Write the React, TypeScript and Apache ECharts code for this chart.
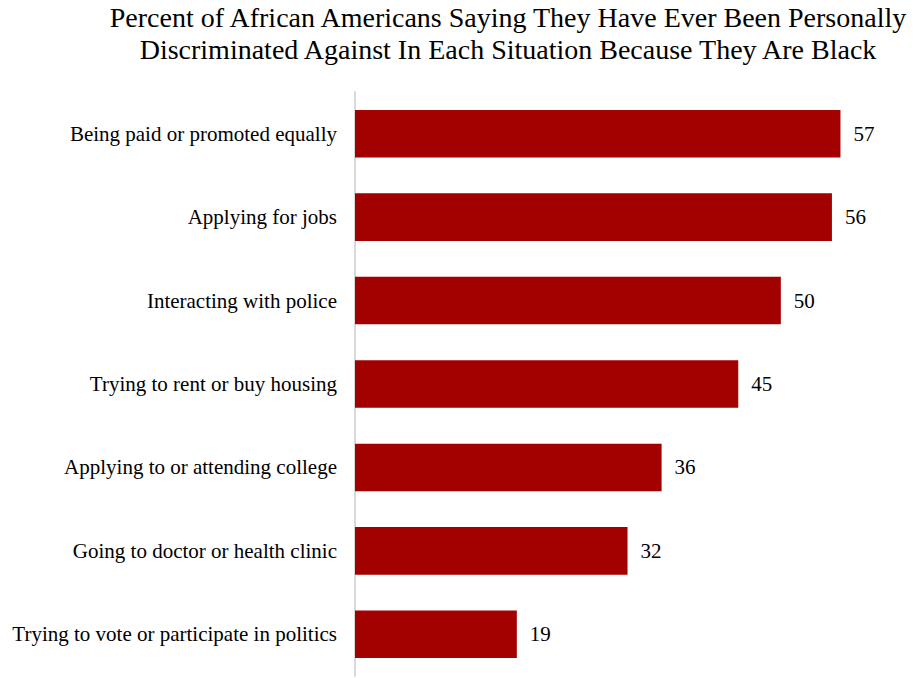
import React, { useEffect, useRef } from "react";
import * as echarts from "echarts";

const titleLines = [
  "Percent of African Americans Saying They Have Ever Been Personally",
  "Discriminated Against In Each Situation Because They Are Black",
];

// top to bottom as shown in the picture
const situations = [
  "Being paid or promoted equally",
  "Applying for jobs",
  "Interacting with police",
  "Trying to rent or buy housing",
  "Applying to or attending college",
  "Going to doctor or health clinic",
  "Trying to vote or participate in politics",
];

const percents = [57, 56, 50, 45, 36, 32, 19];

const serif = "Liberation Serif";

const App: React.FC = () => {
  const chartRef = useRef<HTMLDivElement>(null);

  useEffect(() => {
    if (!chartRef.current) return;

    const chartInstance = echarts.init(chartRef.current, undefined, {
      renderer: "svg",
    });

    const option = {
      animation: false,
      backgroundColor: "#ffffff",
      graphic: [
        {
          type: "text",
          x: 508,
          y: 1,
          style: {
            text: titleLines.join("\n"),
            fontFamily: serif,
            fontSize: 28,
            fill: "#000",
            textAlign: "center",
            lineHeight: 32,
          },
        },
      ],
      grid: {
        left: 355,
        right: 52,
        top: 92,
        bottom: 2,
        containLabel: false,
      },
      xAxis: {
        type: "value",
        min: 0,
        max: 60,
        show: false,
      },
      yAxis: {
        type: "category",
        data: situations,
        inverse: true,
        axisLine: {
          show: true,
          lineStyle: { color: "#d9d9d9", width: 2 },
        },
        axisTick: { show: false },
        axisLabel: {
          fontFamily: serif,
          fontSize: 21,
          color: "#000",
          margin: 18,
        },
      },
      series: [
        {
          type: "bar",
          data: percents,
          barCategoryGap: "43%",
          itemStyle: { color: "#a30000" },
          label: {
            show: true,
            position: "right",
            distance: 13,
            fontFamily: serif,
            fontSize: 21,
            color: "#000",
          },
        },
      ],
    };

    chartInstance.setOption(option);

    return () => {
      chartInstance.dispose();
    };
  }, []);

  return (
    <div
      ref={chartRef}
      style={{ position: "fixed", left: 0, top: 0, width: "918px", height: "678px" }}
    />
  );
};

export default App;
